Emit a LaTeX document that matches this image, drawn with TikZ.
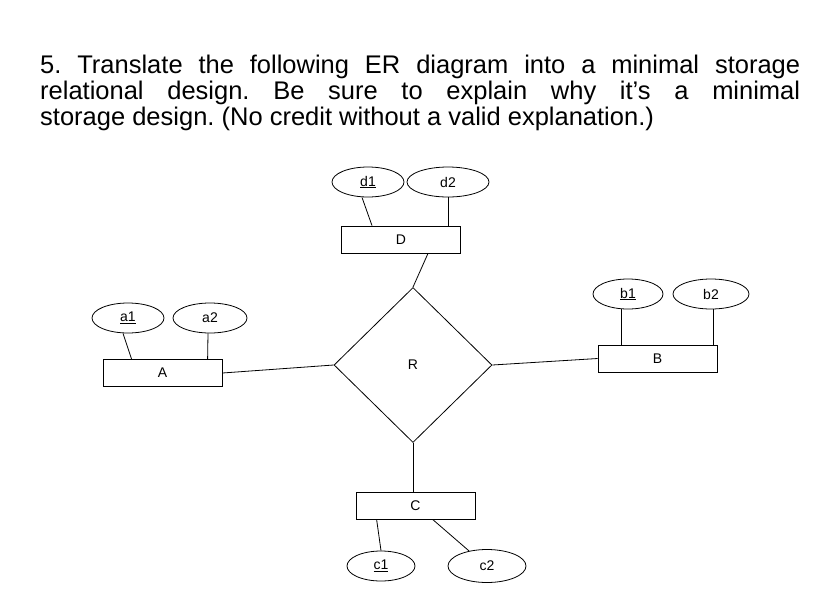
\documentclass[tikz,border=0pt]{standalone}
\usepackage{fontspec}
\setmainfont{Liberation Sans}
\usetikzlibrary{shapes.geometric,calc}
\begin{document}
\frenchspacing
\begin{tikzpicture}[x=1pt,y=-1pt,
  ent/.style={draw,thick,minimum width=119pt,minimum height=27pt,inner sep=0pt,font=\fontsize{14}{16}\selectfont},
  att/.style={draw,thick,ellipse,minimum height=30pt,inner sep=0pt,font=\fontsize{14}{16}\selectfont},
  rel/.style={draw,thick,diamond,minimum width=158pt,minimum height=155pt,inner sep=0pt,font=\fontsize{14}{16}\selectfont},
  ln/.style={thick}]
\useasboundingbox (0,0) rectangle (830,614);
\node[anchor=north west,inner sep=0pt,text width=760pt,align=justify,font=\fontsize{25.5}{26}\selectfont] (title) at (40,55)
{5. Translate the following ER diagram into a minimal storage\linebreak relational design. Be sure to explain why it’s a minimal\linebreak storage design. (No credit without a valid explanation.)};
\node[rel] (R) at (413,365) {R};
\node[ent] (D) at (401,239.5) {D};
\node[att,minimum width=72pt] (d1) at (368,182) {\underline{d1}};
\node[att,minimum width=82pt] (d2) at (448,182) {d2};
\node[ent] (A) at (162.5,373) {A};
\node[att,minimum width=72pt] (a1) at (128,318) {\underline{a1}};
\node[att,minimum width=74pt] (a2) at (210,318) {a2};
\node[ent] (B) at (657.5,358.5) {B};
\node[att,minimum width=70pt] (b1) at (628,294) {\underline{b1}};
\node[att,minimum width=76pt] (b2) at (711,294) {b2};
\node[ent] (C) at (415.5,505.5) {C};
\node[att,minimum width=68pt] (c1) at (381,566) {\underline{c1}};
\node[att,minimum width=78pt,minimum height=33pt] (c2) at (487,566) {c2};
\draw[ln] (d1.south) ++(-6,0) coordinate (d1s) -- (D.north west -| {(372,0)});
\draw[ln] (d2.south) -- (d2.south |- D.north);
\draw[ln] ($(D.south)+(27,0)$) -- (R.north);
\draw[ln] ($(a1.south)+(-5,0)$) -- ($(A.north west)+(29,0)$);
\draw[ln] ($(a2.south)+(-2,0)$) -- ($(A.north west)+(105,0)$);
\draw[ln] (b1.south -| {(621,0)}) -- (B.north west -| {(621,0)});
\draw[ln] (b2.south -| {(713,0)}) -- (B.north west -| {(713,0)});
\draw[ln] (A.east) -- (R.west);
\draw[ln] (R.east) -- (B.west);
\draw[ln] (R.south) -- (R.south |- C.north);
\draw[ln] ($(C.south west)+(21,0)$) -- (c1.north);
\draw[ln] ($(C.south west)+(77,0)$) -- (c2.140);
\end{tikzpicture}
\end{document}
